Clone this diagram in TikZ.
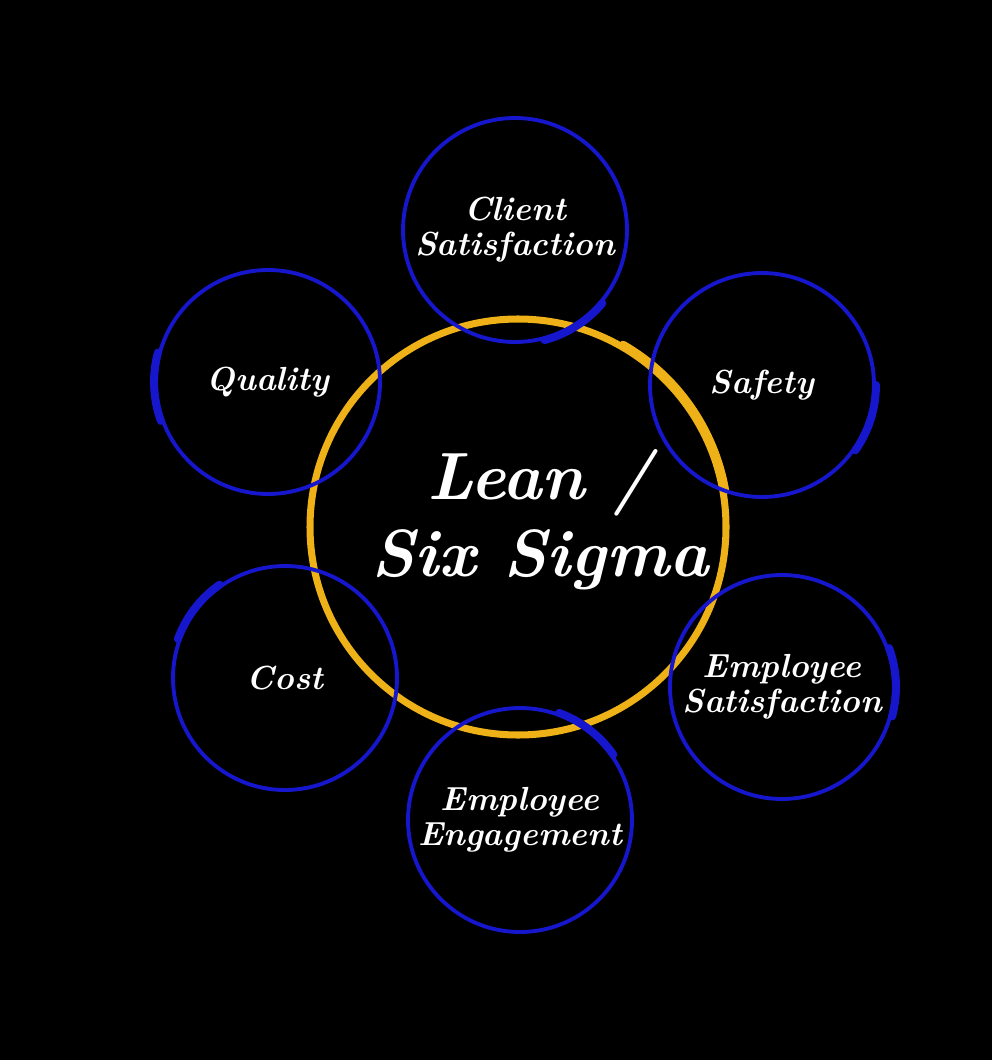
\documentclass[tikz,border=0pt]{standalone}
\begin{document}
\begin{tikzpicture}[x=0.02cm,y=-0.02cm]
\definecolor{bl}{RGB}{22,22,205}
\definecolor{yl}{RGB}{238,178,24}
\tikzset{ring/.style={draw=bl,line width=2.2pt},
 brush/.style={draw=bl,line width=4.5pt,line cap=round},
 lbl/.style={text=white,font=\bfseries\itshape\fontsize{19}{20}\selectfont,align=center},
 big/.style={text=white,font=\bfseries\itshape\fontsize{38}{44}\selectfont,align=center}}
\fill[black] (0,0) rectangle (992,1060);
\useasboundingbox (0,0) rectangle (992,1060);
% central
\node[circle,draw=yl,line width=4pt,minimum size=416*0.02cm,inner sep=0pt] (c) at (518,527) {};
\draw[yl,line width=5pt,line cap=round] (518,527) ++(-10:210) arc[start angle=-10,end angle=-60,radius=210];
\node[big] (ct) at (540,520) {Lean /\\Six Sigma};
% satellites
\foreach \n/\x/\y/\a/\t in {cs/515/230/40/{Client\\Satisfaction},q/268/382/160/{Quality},s/762/385/0/{Safety},co/285/678/200/{Cost},es/782/687/-20/{Employee\\Satisfaction},ee/520/820/-70/{Employee\\Engagement}}{
  \node[circle,ring,minimum size=224*0.02cm,inner sep=0pt] (\n) at (\x,\y) {};
  \draw[brush] (\x,\y) ++(\a:114) arc[start angle=\a,end angle=\a+35,radius=114];
  \node[lbl] (\n t) at (\x,\y) {\t};
}
\end{tikzpicture}
\end{document}
